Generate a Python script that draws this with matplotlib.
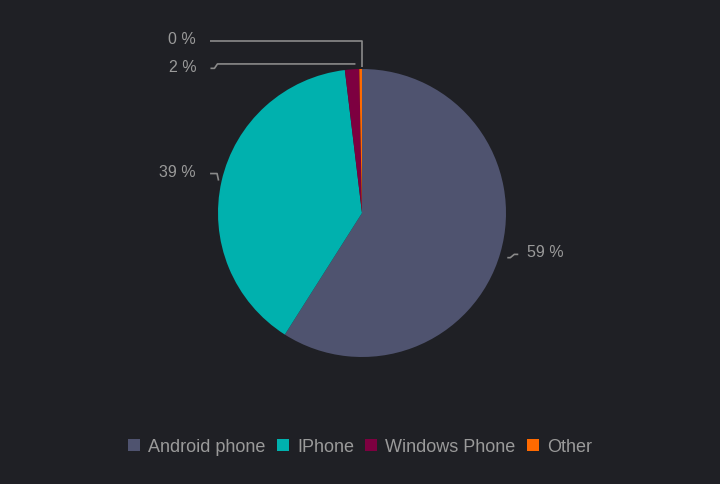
import numpy as np
import matplotlib.pyplot as plt
from matplotlib.patches import Patch

plt.rcParams["font.family"] = ["Liberation Sans", "DejaVu Sans"]

BG = "#1f2025"
TEXT_GRAY = "#9a9a9a"
LINE_GRAY = "#8a8a8a"

# data
categories = ["Android phone", "IPhone", "Windows Phone", "Other"]
shares = [59.0, 39.1, 1.6, 0.3]
colors = ["#4f536f", "#00b1ae", "#7d0040", "#ff6a00"]

# layout: pie radius in pixels, centre in pixels (from top-left)
R_PX = 144.0
CX, CY = 362.0, 213.0
W, H = 720, 484

# leader lines, as pixel offsets (right, down) from the wedge's outer mid point
LEADERS = {
    "Android phone": ([(7, 4.5), (10, 4.5), (14, 1.2), (18, 1.2)], (26.8, -0.5), "left"),
    "IPhone": ([(-3, -0.6), (-4.5, -7.6), (-11.5, -7.6)], (-25.5, -9.0), "right"),
    "Windows Phone": ([(3.4, -5.4), (-134.6, -5.4), (-137.6, -1.0), (-141.6, -1.0)],
                      (-155.6, -1.8), "right"),
    "Other": ([(1.1, -2.3), (1.1, -28.3), (-150.6, -28.3)], (-164.6, -29.4), "right"),
}


def px(dx, dy):
    return dx / R_PX, -dy / R_PX


fig = plt.figure(figsize=(W / 100, H / 100), dpi=100, facecolor=BG)
ax = fig.add_axes([0, 0, 1, 1])
ax.set_facecolor(BG)
ax.axis("off")

wedges, _ = ax.pie(
    shares,
    colors=colors,
    startangle=90,
    counterclock=False,
    radius=1.0,
    wedgeprops={"linewidth": 0},
)
ax.set_aspect("auto")
ax.set_xlim(-CX / R_PX, (W - CX) / R_PX)
ax.set_ylim(-(H - CY) / R_PX, CY / R_PX)

total = sum(shares)
for wedge, name, value in zip(wedges, categories, shares):
    mid = np.deg2rad((wedge.theta1 + wedge.theta2) / 2)
    ax0, ay0 = np.cos(mid), np.sin(mid)
    offsets, text_off, ha = LEADERS[name]
    pts = [(ax0 + px(*o)[0], ay0 + px(*o)[1]) for o in offsets]
    xs, ys = zip(*pts)
    ax.plot(xs, ys, color=LINE_GRAY, linewidth=1.2, solid_capstyle="butt")
    tx, ty = px(*text_off)
    ax.text(ax0 + tx, ay0 + ty, f"{round(value / total * 100):.0f} %",
            color=TEXT_GRAY, fontsize=11.5, ha=ha, va="center")

handles = [Patch(facecolor=c, edgecolor="none") for c in colors]
leg = fig.legend(
    handles,
    categories,
    loc="center",
    bbox_to_anchor=(0.5, 1 - 447 / H),
    ncol=4,
    frameon=False,
    fontsize=13.0,
    handlelength=0.66,
    handleheight=0.66,
    handletextpad=0.45,
    columnspacing=0.62,
    labelcolor=TEXT_GRAY,
)

fig.savefig("out.png", dpi=100, facecolor=BG)
